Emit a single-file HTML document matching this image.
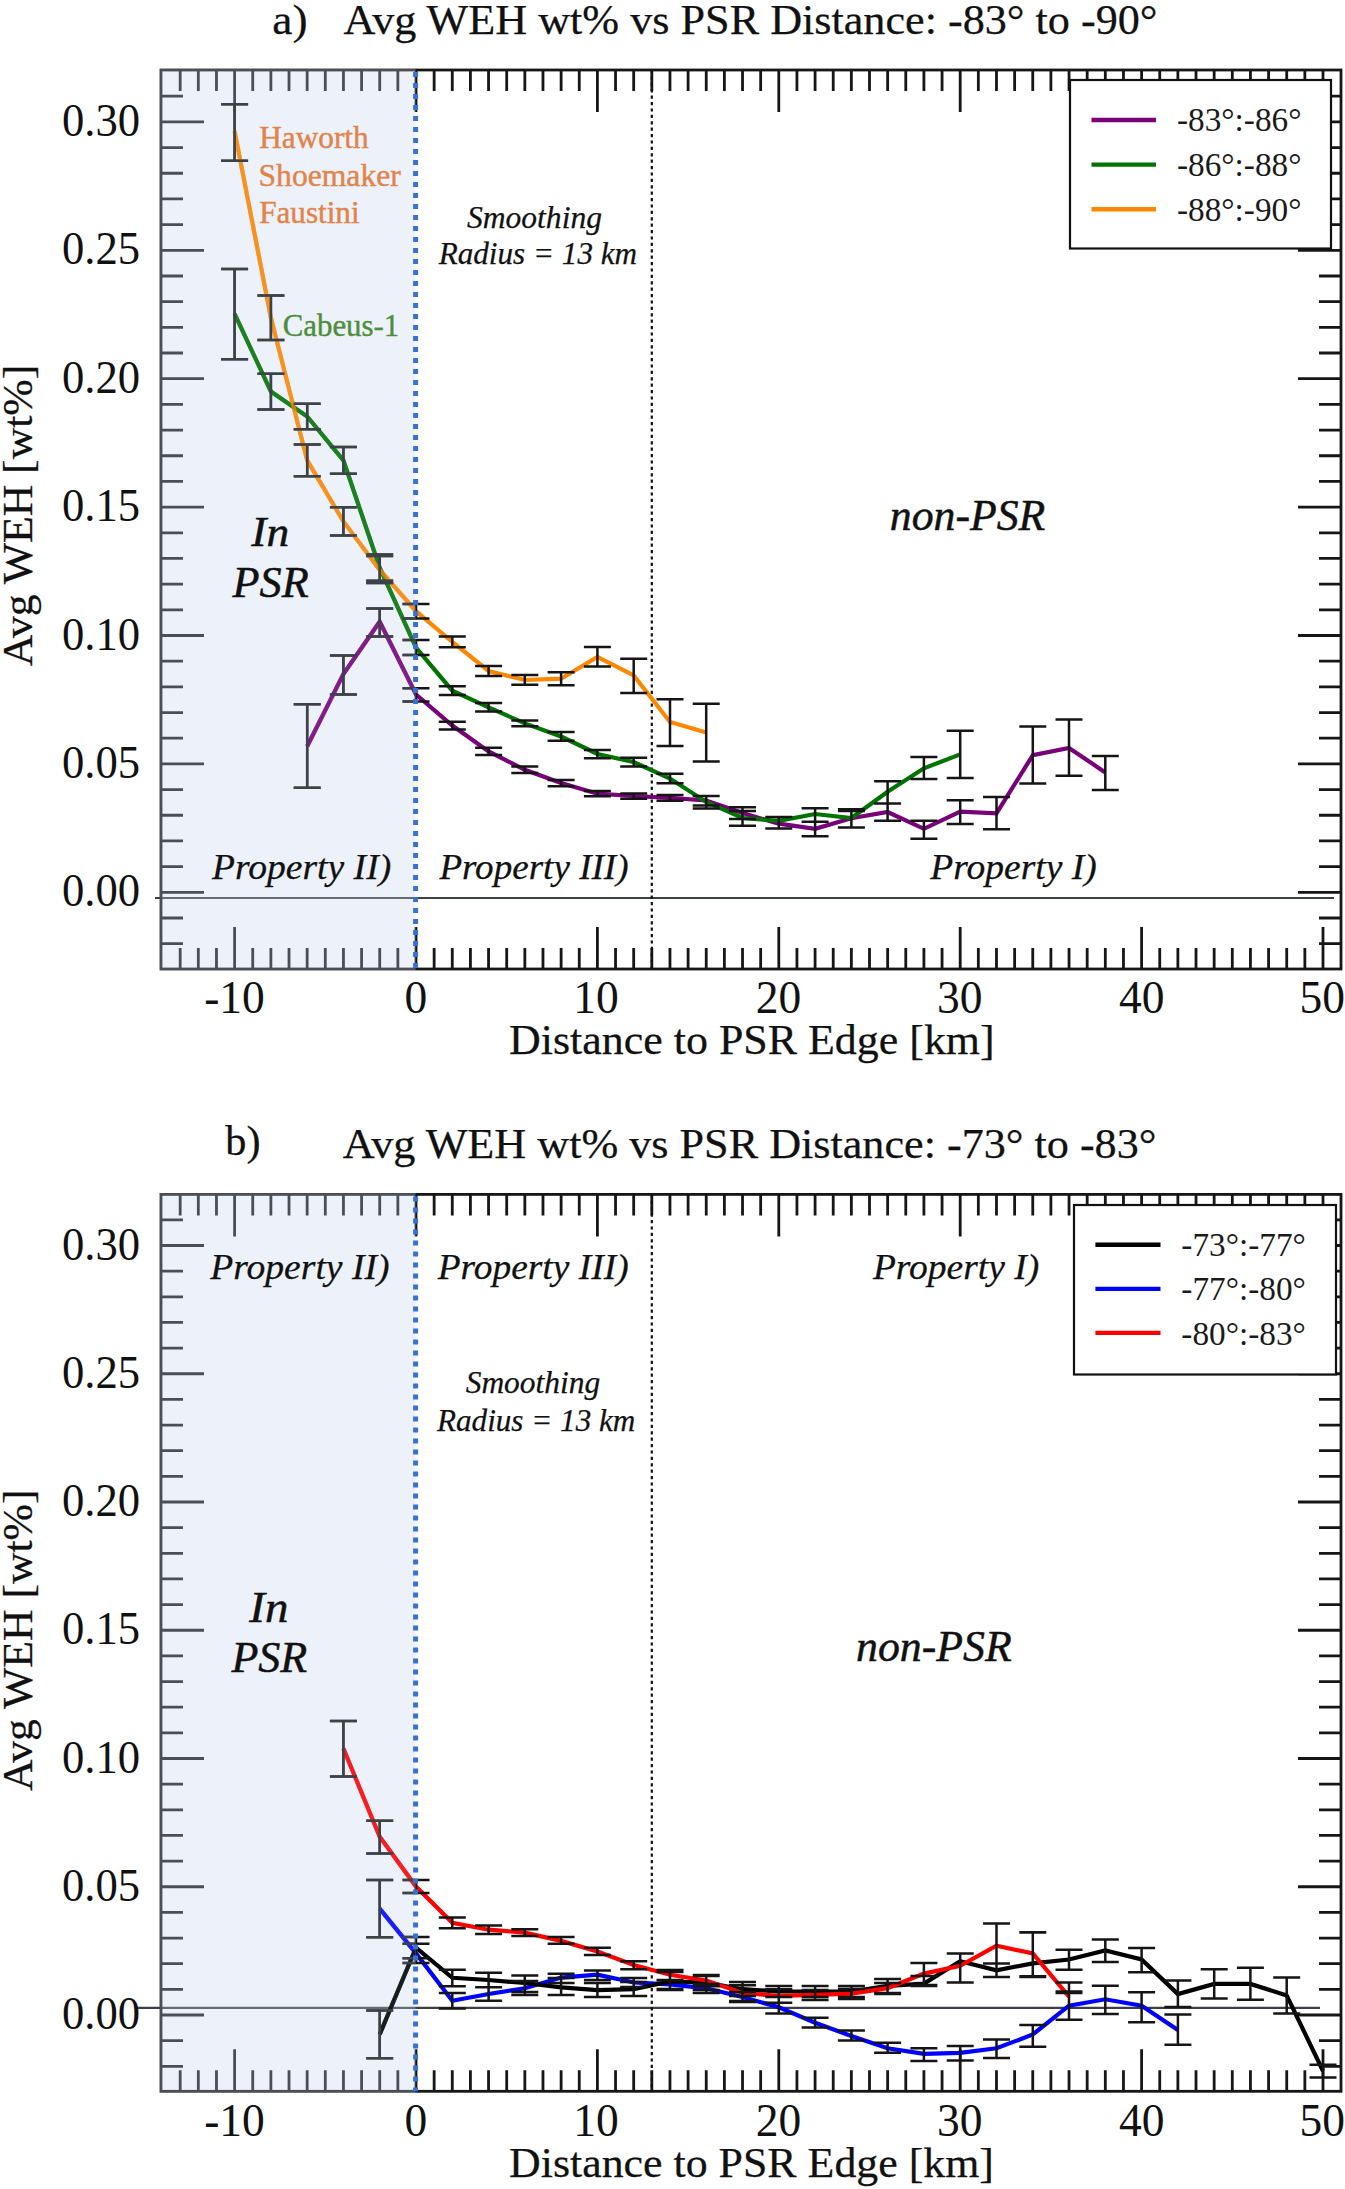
<!DOCTYPE html>
<html><head><meta charset="utf-8"><style>html,body{margin:0;padding:0;background:#fff;}svg{display:block;}</style></head><body>
<svg width="1345" height="2189" viewBox="0 0 1345 2189">
<rect width="1345" height="2189" fill="#fff"/>
<path d="M180.18 969.0v-21M180.18 70.0v21M198.32 969.0v-21M198.32 70.0v21M216.46 969.0v-21M216.46 70.0v21M234.60 969.0v-42M234.60 70.0v42M252.74 969.0v-21M252.74 70.0v21M270.88 969.0v-21M270.88 70.0v21M289.02 969.0v-21M289.02 70.0v21M307.16 969.0v-21M307.16 70.0v21M325.30 969.0v-21M325.30 70.0v21M343.44 969.0v-21M343.44 70.0v21M361.58 969.0v-21M361.58 70.0v21M379.72 969.0v-21M379.72 70.0v21M397.86 969.0v-21M397.86 70.0v21M416.00 969.0v-42M416.00 70.0v42M434.14 969.0v-21M434.14 70.0v21M452.28 969.0v-21M452.28 70.0v21M470.42 969.0v-21M470.42 70.0v21M488.56 969.0v-21M488.56 70.0v21M506.70 969.0v-21M506.70 70.0v21M524.84 969.0v-21M524.84 70.0v21M542.98 969.0v-21M542.98 70.0v21M561.12 969.0v-21M561.12 70.0v21M579.26 969.0v-21M579.26 70.0v21M597.40 969.0v-42M597.40 70.0v42M615.54 969.0v-21M615.54 70.0v21M633.68 969.0v-21M633.68 70.0v21M651.82 969.0v-21M651.82 70.0v21M669.96 969.0v-21M669.96 70.0v21M688.10 969.0v-21M688.10 70.0v21M706.24 969.0v-21M706.24 70.0v21M724.38 969.0v-21M724.38 70.0v21M742.52 969.0v-21M742.52 70.0v21M760.66 969.0v-21M760.66 70.0v21M778.80 969.0v-42M778.80 70.0v42M796.94 969.0v-21M796.94 70.0v21M815.08 969.0v-21M815.08 70.0v21M833.22 969.0v-21M833.22 70.0v21M851.36 969.0v-21M851.36 70.0v21M869.50 969.0v-21M869.50 70.0v21M887.64 969.0v-21M887.64 70.0v21M905.78 969.0v-21M905.78 70.0v21M923.92 969.0v-21M923.92 70.0v21M942.06 969.0v-21M942.06 70.0v21M960.20 969.0v-42M960.20 70.0v42M978.34 969.0v-21M978.34 70.0v21M996.48 969.0v-21M996.48 70.0v21M1014.62 969.0v-21M1014.62 70.0v21M1032.76 969.0v-21M1032.76 70.0v21M1050.90 969.0v-21M1050.90 70.0v21M1069.04 969.0v-21M1069.04 70.0v21M1087.18 969.0v-21M1087.18 70.0v21M1105.32 969.0v-21M1105.32 70.0v21M1123.46 969.0v-21M1123.46 70.0v21M1141.60 969.0v-42M1141.60 70.0v42M1159.74 969.0v-21M1159.74 70.0v21M1177.88 969.0v-21M1177.88 70.0v21M1196.02 969.0v-21M1196.02 70.0v21M1214.16 969.0v-21M1214.16 70.0v21M1232.30 969.0v-21M1232.30 70.0v21M1250.44 969.0v-21M1250.44 70.0v21M1268.58 969.0v-21M1268.58 70.0v21M1286.72 969.0v-21M1286.72 70.0v21M1304.86 969.0v-21M1304.86 70.0v21M1323.00 969.0v-42M1323.00 70.0v42M161.0 943.66h22M1341.0 943.66h-22M161.0 917.98h22M1341.0 917.98h-22M161.0 892.30h43M1341.0 892.30h-43M161.0 866.62h22M1341.0 866.62h-22M161.0 840.94h22M1341.0 840.94h-22M161.0 815.26h22M1341.0 815.26h-22M161.0 789.58h22M1341.0 789.58h-22M161.0 763.90h43M1341.0 763.90h-43M161.0 738.22h22M1341.0 738.22h-22M161.0 712.54h22M1341.0 712.54h-22M161.0 686.86h22M1341.0 686.86h-22M161.0 661.18h22M1341.0 661.18h-22M161.0 635.50h43M1341.0 635.50h-43M161.0 609.82h22M1341.0 609.82h-22M161.0 584.14h22M1341.0 584.14h-22M161.0 558.46h22M1341.0 558.46h-22M161.0 532.78h22M1341.0 532.78h-22M161.0 507.10h43M1341.0 507.10h-43M161.0 481.42h22M1341.0 481.42h-22M161.0 455.74h22M1341.0 455.74h-22M161.0 430.06h22M1341.0 430.06h-22M161.0 404.38h22M1341.0 404.38h-22M161.0 378.70h43M1341.0 378.70h-43M161.0 353.02h22M1341.0 353.02h-22M161.0 327.34h22M1341.0 327.34h-22M161.0 301.66h22M1341.0 301.66h-22M161.0 275.98h22M1341.0 275.98h-22M161.0 250.30h43M1341.0 250.30h-43M161.0 224.62h22M1341.0 224.62h-22M161.0 198.94h22M1341.0 198.94h-22M161.0 173.26h22M1341.0 173.26h-22M161.0 147.58h22M1341.0 147.58h-22M161.0 121.90h43M1341.0 121.90h-43M161.0 96.22h22M1341.0 96.22h-22" stroke="#161616" stroke-width="2.8" fill="none"/>
<path d="M155 898.0H1334" stroke="#3c3f44" stroke-width="2.2"/>
<rect x="161.0" y="70.0" width="1180.0" height="899.0" fill="none" stroke="#161616" stroke-width="2.8"/>
<path d="M651.8 70.0V969.0" stroke="#111" stroke-width="2.2" stroke-dasharray="3.2 3.2"/>
<path d="M307.2 746.2 L343.4 674.0 L379.7 621.7 L416.0 694.5 L452.3 725.5 L488.6 751.4 L524.8 769.8 L561.1 783.0 L597.4 793.7 L633.7 796.0 L670.0 797.9 L706.2 800.5 L742.5 813.0 L778.8 823.7 L815.1 828.8 L851.4 818.3 L887.6 812.0 L923.9 828.8 L960.2 811.7 L996.5 813.3 L1032.8 755.2 L1069.0 747.9 L1105.3 772.4" stroke="#780078" stroke-width="4.2" fill="none" stroke-opacity="1.0" stroke-linejoin="miter" stroke-miterlimit="3" stroke-linecap="butt"/>
<path d="M234.6 313.9 L270.9 391.5 L307.2 416.5 L343.4 460.3 L379.7 567.7 L416.0 647.5 L452.3 690.7 L488.6 707.3 L524.8 723.4 L561.1 736.5 L597.4 754.0 L633.7 762.0 L670.0 778.5 L706.2 802.0 L742.5 818.0 L778.8 820.8 L815.1 814.0 L851.4 818.0 L887.6 791.8 L923.9 768.3 L960.2 754.4" stroke="#007300" stroke-width="4.2" fill="none" stroke-opacity="1.0" stroke-linejoin="miter" stroke-miterlimit="3" stroke-linecap="butt"/>
<path d="M234.6 131.2 L270.9 317.8 L307.2 460.4 L343.4 521.4 L379.7 570.0 L416.0 611.2 L452.3 642.0 L488.6 671.0 L524.8 680.0 L561.1 678.7 L597.4 657.0 L633.7 675.5 L670.0 722.0 L706.2 732.5" stroke="#ff8700" stroke-width="4.2" fill="none" stroke-opacity="1.0" stroke-linejoin="miter" stroke-miterlimit="3" stroke-linecap="butt"/>
<path d="M234.6 104.2V160.8M221.1 104.2h27M221.1 160.8h27M270.9 295.5V340.0M257.4 295.5h27M257.4 340.0h27M307.2 444.4V476.3M293.7 444.4h27M293.7 476.3h27M343.4 507.2V535.6M329.9 507.2h27M329.9 535.6h27M379.7 556.0V583.0M366.2 556.0h27M366.2 583.0h27M416.0 604.0V618.5M402.5 604.0h27M402.5 618.5h27M452.3 636.6V647.3M438.8 636.6h27M438.8 647.3h27M488.6 666.0V676.0M475.1 666.0h27M475.1 676.0h27M524.8 675.1V684.8M511.3 675.1h27M511.3 684.8h27M561.1 672.2V685.3M547.6 672.2h27M547.6 685.3h27M597.4 647.0V666.4M583.9 647.0h27M583.9 666.4h27M633.7 658.7V693.1M620.2 658.7h27M620.2 693.1h27M670.0 699.3V746.0M656.5 699.3h27M656.5 746.0h27M706.2 703.8V761.6M692.7 703.8h27M692.7 761.6h27M234.6 269.1V359.3M221.1 269.1h27M221.1 359.3h27M270.9 373.8V409.6M257.4 373.8h27M257.4 409.6h27M307.2 403.8V429.3M293.7 403.8h27M293.7 429.3h27M343.4 446.9V473.8M329.9 446.9h27M329.9 473.8h27M379.7 554.6V580.7M366.2 554.6h27M366.2 580.7h27M416.0 640.0V655.0M402.5 640.0h27M402.5 655.0h27M452.3 686.3V695.0M438.8 686.3h27M438.8 695.0h27M488.6 703.1V711.5M475.1 703.1h27M475.1 711.5h27M524.8 720.5V726.3M511.3 720.5h27M511.3 726.3h27M561.1 732.1V740.8M547.6 732.1h27M547.6 740.8h27M597.4 749.9V758.2M583.9 749.9h27M583.9 758.2h27M633.7 757.8V766.5M620.2 757.8h27M620.2 766.5h27M670.0 773.7V783.3M656.5 773.7h27M656.5 783.3h27M706.2 796.0V808.5M692.7 796.0h27M692.7 808.5h27M742.5 811.0V825.7M729.0 811.0h27M729.0 825.7h27M778.8 817.0V828.5M765.3 817.0h27M765.3 828.5h27M815.1 808.3V821.8M801.6 808.3h27M801.6 821.8h27M851.4 809.2V827.6M837.9 809.2h27M837.9 827.6h27M887.6 781.2V803.4M874.1 781.2h27M874.1 803.4h27M923.9 756.9V779.0M910.4 756.9h27M910.4 779.0h27M960.2 730.7V778.1M946.7 730.7h27M946.7 778.1h27M307.2 704.3V787.8M293.7 704.3h27M293.7 787.8h27M343.4 655.4V694.4M329.9 655.4h27M329.9 694.4h27M379.7 608.4V636.4M366.2 608.4h27M366.2 636.4h27M416.0 688.3V701.4M402.5 688.3h27M402.5 701.4h27M452.3 721.7V729.4M438.8 721.7h27M438.8 729.4h27M488.6 747.8V755.0M475.1 747.8h27M475.1 755.0h27M524.8 766.4V773.0M511.3 766.4h27M511.3 773.0h27M561.1 779.9V786.3M547.6 779.9h27M547.6 786.3h27M597.4 791.1V796.3M583.9 791.1h27M583.9 796.3h27M633.7 793.4V798.8M620.2 793.4h27M620.2 798.8h27M670.0 795.0V800.7M656.5 795.0h27M656.5 800.7h27M706.2 796.0V805.5M692.7 796.0h27M692.7 805.5h27M742.5 807.3V819.0M729.0 807.3h27M729.0 819.0h27M778.8 817.0V828.5M765.3 817.0h27M765.3 828.5h27M815.1 821.8V836.3M801.6 821.8h27M801.6 836.3h27M851.4 811.0V827.6M837.9 811.0h27M837.9 827.6h27M887.6 803.4V820.8M874.1 803.4h27M874.1 820.8h27M923.9 820.7V838.7M910.4 820.7h27M910.4 838.7h27M960.2 800.2V824.0M946.7 800.2h27M946.7 824.0h27M996.5 797.0V829.2M983.0 797.0h27M983.0 829.2h27M1032.8 726.6V783.4M1019.3 726.6h27M1019.3 783.4h27M1069.0 719.6V775.7M1055.5 719.6h27M1055.5 775.7h27M1105.3 756.0V789.9M1091.8 756.0h27M1091.8 789.9h27" stroke="#151515" stroke-width="2.5" fill="none"/>
<rect x="1070" y="80" width="261" height="168.5" fill="#fff" stroke="#111" stroke-width="2.2"/>
<path d="M1091.5 120.0H1156" stroke="#780078" stroke-width="4.4"/>
<path d="M1091.5 164.6H1156" stroke="#007300" stroke-width="4.4"/>
<path d="M1091.5 209.2H1156" stroke="#ff8700" stroke-width="4.4"/>
<rect x="159.6" y="68.6" width="256.0" height="901.8" fill="rgb(195,211,238)" fill-opacity="0.3"/>
<clipPath id="clip70"><rect x="161.0" y="71.4" width="254.6" height="896.2"/></clipPath>
<g clip-path="url(#clip70)">
<path d="M307.2 746.2 L343.4 674.0 L379.7 621.7 L416.0 694.5 L452.3 725.5 L488.6 751.4 L524.8 769.8 L561.1 783.0 L597.4 793.7 L633.7 796.0 L670.0 797.9 L706.2 800.5 L742.5 813.0 L778.8 823.7 L815.1 828.8 L851.4 818.3 L887.6 812.0 L923.9 828.8 L960.2 811.7 L996.5 813.3 L1032.8 755.2 L1069.0 747.9 L1105.3 772.4" stroke="#780078" stroke-width="4.2" fill="none" stroke-opacity="0.55" stroke-linejoin="miter" stroke-miterlimit="3" stroke-linecap="butt"/>
<path d="M234.6 313.9 L270.9 391.5 L307.2 416.5 L343.4 460.3 L379.7 567.7 L416.0 647.5 L452.3 690.7 L488.6 707.3 L524.8 723.4 L561.1 736.5 L597.4 754.0 L633.7 762.0 L670.0 778.5 L706.2 802.0 L742.5 818.0 L778.8 820.8 L815.1 814.0 L851.4 818.0 L887.6 791.8 L923.9 768.3 L960.2 754.4" stroke="#007300" stroke-width="4.2" fill="none" stroke-opacity="0.55" stroke-linejoin="miter" stroke-miterlimit="3" stroke-linecap="butt"/>
<path d="M234.6 131.2 L270.9 317.8 L307.2 460.4 L343.4 521.4 L379.7 570.0 L416.0 611.2 L452.3 642.0 L488.6 671.0 L524.8 680.0 L561.1 678.7 L597.4 657.0 L633.7 675.5 L670.0 722.0 L706.2 732.5" stroke="#ff8700" stroke-width="4.2" fill="none" stroke-opacity="0.55" stroke-linejoin="miter" stroke-miterlimit="3" stroke-linecap="butt"/>
<path d="M307.2 704.3V787.8M293.7 704.3h27M293.7 787.8h27M343.4 655.4V694.4M329.9 655.4h27M329.9 694.4h27M379.7 608.4V636.4M366.2 608.4h27M366.2 636.4h27M416.0 688.3V701.4M402.5 688.3h27M402.5 701.4h27M452.3 721.7V729.4M438.8 721.7h27M438.8 729.4h27M488.6 747.8V755.0M475.1 747.8h27M475.1 755.0h27M524.8 766.4V773.0M511.3 766.4h27M511.3 773.0h27M561.1 779.9V786.3M547.6 779.9h27M547.6 786.3h27M597.4 791.1V796.3M583.9 791.1h27M583.9 796.3h27M633.7 793.4V798.8M620.2 793.4h27M620.2 798.8h27M670.0 795.0V800.7M656.5 795.0h27M656.5 800.7h27M706.2 796.0V805.5M692.7 796.0h27M692.7 805.5h27M742.5 807.3V819.0M729.0 807.3h27M729.0 819.0h27M778.8 817.0V828.5M765.3 817.0h27M765.3 828.5h27M815.1 821.8V836.3M801.6 821.8h27M801.6 836.3h27M851.4 811.0V827.6M837.9 811.0h27M837.9 827.6h27M887.6 803.4V820.8M874.1 803.4h27M874.1 820.8h27M923.9 820.7V838.7M910.4 820.7h27M910.4 838.7h27M960.2 800.2V824.0M946.7 800.2h27M946.7 824.0h27M996.5 797.0V829.2M983.0 797.0h27M983.0 829.2h27M1032.8 726.6V783.4M1019.3 726.6h27M1019.3 783.4h27M1069.0 719.6V775.7M1055.5 719.6h27M1055.5 775.7h27M1105.3 756.0V789.9M1091.8 756.0h27M1091.8 789.9h27M234.6 269.1V359.3M221.1 269.1h27M221.1 359.3h27M270.9 373.8V409.6M257.4 373.8h27M257.4 409.6h27M307.2 403.8V429.3M293.7 403.8h27M293.7 429.3h27M343.4 446.9V473.8M329.9 446.9h27M329.9 473.8h27M379.7 554.6V580.7M366.2 554.6h27M366.2 580.7h27M416.0 640.0V655.0M402.5 640.0h27M402.5 655.0h27M452.3 686.3V695.0M438.8 686.3h27M438.8 695.0h27M488.6 703.1V711.5M475.1 703.1h27M475.1 711.5h27M524.8 720.5V726.3M511.3 720.5h27M511.3 726.3h27M561.1 732.1V740.8M547.6 732.1h27M547.6 740.8h27M597.4 749.9V758.2M583.9 749.9h27M583.9 758.2h27M633.7 757.8V766.5M620.2 757.8h27M620.2 766.5h27M670.0 773.7V783.3M656.5 773.7h27M656.5 783.3h27M706.2 796.0V808.5M692.7 796.0h27M692.7 808.5h27M742.5 811.0V825.7M729.0 811.0h27M729.0 825.7h27M778.8 817.0V828.5M765.3 817.0h27M765.3 828.5h27M815.1 808.3V821.8M801.6 808.3h27M801.6 821.8h27M851.4 809.2V827.6M837.9 809.2h27M837.9 827.6h27M887.6 781.2V803.4M874.1 781.2h27M874.1 803.4h27M923.9 756.9V779.0M910.4 756.9h27M910.4 779.0h27M960.2 730.7V778.1M946.7 730.7h27M946.7 778.1h27M234.6 104.2V160.8M221.1 104.2h27M221.1 160.8h27M270.9 295.5V340.0M257.4 295.5h27M257.4 340.0h27M307.2 444.4V476.3M293.7 444.4h27M293.7 476.3h27M343.4 507.2V535.6M329.9 507.2h27M329.9 535.6h27M379.7 556.0V583.0M366.2 556.0h27M366.2 583.0h27M416.0 604.0V618.5M402.5 604.0h27M402.5 618.5h27M452.3 636.6V647.3M438.8 636.6h27M438.8 647.3h27M488.6 666.0V676.0M475.1 666.0h27M475.1 676.0h27M524.8 675.1V684.8M511.3 675.1h27M511.3 684.8h27M561.1 672.2V685.3M547.6 672.2h27M547.6 685.3h27M597.4 647.0V666.4M583.9 647.0h27M583.9 666.4h27M633.7 658.7V693.1M620.2 658.7h27M620.2 693.1h27M670.0 699.3V746.0M656.5 699.3h27M656.5 746.0h27M706.2 703.8V761.6M692.7 703.8h27M692.7 761.6h27" stroke="#3d4249" stroke-width="2.5" fill="none"/>
</g>
<path d="M415.6 72.0V969.0" stroke="#3b70d0" stroke-width="5" stroke-dasharray="5 6"/>
<path d="M180.18 2091.3v-21M180.18 1194.4v21M198.32 2091.3v-21M198.32 1194.4v21M216.46 2091.3v-21M216.46 1194.4v21M234.60 2091.3v-42M234.60 1194.4v42M252.74 2091.3v-21M252.74 1194.4v21M270.88 2091.3v-21M270.88 1194.4v21M289.02 2091.3v-21M289.02 1194.4v21M307.16 2091.3v-21M307.16 1194.4v21M325.30 2091.3v-21M325.30 1194.4v21M343.44 2091.3v-21M343.44 1194.4v21M361.58 2091.3v-21M361.58 1194.4v21M379.72 2091.3v-21M379.72 1194.4v21M397.86 2091.3v-21M397.86 1194.4v21M416.00 2091.3v-42M416.00 1194.4v42M434.14 2091.3v-21M434.14 1194.4v21M452.28 2091.3v-21M452.28 1194.4v21M470.42 2091.3v-21M470.42 1194.4v21M488.56 2091.3v-21M488.56 1194.4v21M506.70 2091.3v-21M506.70 1194.4v21M524.84 2091.3v-21M524.84 1194.4v21M542.98 2091.3v-21M542.98 1194.4v21M561.12 2091.3v-21M561.12 1194.4v21M579.26 2091.3v-21M579.26 1194.4v21M597.40 2091.3v-42M597.40 1194.4v42M615.54 2091.3v-21M615.54 1194.4v21M633.68 2091.3v-21M633.68 1194.4v21M651.82 2091.3v-21M651.82 1194.4v21M669.96 2091.3v-21M669.96 1194.4v21M688.10 2091.3v-21M688.10 1194.4v21M706.24 2091.3v-21M706.24 1194.4v21M724.38 2091.3v-21M724.38 1194.4v21M742.52 2091.3v-21M742.52 1194.4v21M760.66 2091.3v-21M760.66 1194.4v21M778.80 2091.3v-42M778.80 1194.4v42M796.94 2091.3v-21M796.94 1194.4v21M815.08 2091.3v-21M815.08 1194.4v21M833.22 2091.3v-21M833.22 1194.4v21M851.36 2091.3v-21M851.36 1194.4v21M869.50 2091.3v-21M869.50 1194.4v21M887.64 2091.3v-21M887.64 1194.4v21M905.78 2091.3v-21M905.78 1194.4v21M923.92 2091.3v-21M923.92 1194.4v21M942.06 2091.3v-21M942.06 1194.4v21M960.20 2091.3v-42M960.20 1194.4v42M978.34 2091.3v-21M978.34 1194.4v21M996.48 2091.3v-21M996.48 1194.4v21M1014.62 2091.3v-21M1014.62 1194.4v21M1032.76 2091.3v-21M1032.76 1194.4v21M1050.90 2091.3v-21M1050.90 1194.4v21M1069.04 2091.3v-21M1069.04 1194.4v21M1087.18 2091.3v-21M1087.18 1194.4v21M1105.32 2091.3v-21M1105.32 1194.4v21M1123.46 2091.3v-21M1123.46 1194.4v21M1141.60 2091.3v-42M1141.60 1194.4v42M1159.74 2091.3v-21M1159.74 1194.4v21M1177.88 2091.3v-21M1177.88 1194.4v21M1196.02 2091.3v-21M1196.02 1194.4v21M1214.16 2091.3v-21M1214.16 1194.4v21M1232.30 2091.3v-21M1232.30 1194.4v21M1250.44 2091.3v-21M1250.44 1194.4v21M1268.58 2091.3v-21M1268.58 1194.4v21M1286.72 2091.3v-21M1286.72 1194.4v21M1304.86 2091.3v-21M1304.86 1194.4v21M1323.00 2091.3v-42M1323.00 1194.4v42M161.0 2066.30h22M1341.0 2066.30h-22M161.0 2040.65h22M1341.0 2040.65h-22M161.0 2015.00h43M1341.0 2015.00h-43M161.0 1989.35h22M1341.0 1989.35h-22M161.0 1963.70h22M1341.0 1963.70h-22M161.0 1938.05h22M1341.0 1938.05h-22M161.0 1912.40h22M1341.0 1912.40h-22M161.0 1886.75h43M1341.0 1886.75h-43M161.0 1861.10h22M1341.0 1861.10h-22M161.0 1835.45h22M1341.0 1835.45h-22M161.0 1809.80h22M1341.0 1809.80h-22M161.0 1784.15h22M1341.0 1784.15h-22M161.0 1758.50h43M1341.0 1758.50h-43M161.0 1732.85h22M1341.0 1732.85h-22M161.0 1707.20h22M1341.0 1707.20h-22M161.0 1681.55h22M1341.0 1681.55h-22M161.0 1655.90h22M1341.0 1655.90h-22M161.0 1630.25h43M1341.0 1630.25h-43M161.0 1604.60h22M1341.0 1604.60h-22M161.0 1578.95h22M1341.0 1578.95h-22M161.0 1553.30h22M1341.0 1553.30h-22M161.0 1527.65h22M1341.0 1527.65h-22M161.0 1502.00h43M1341.0 1502.00h-43M161.0 1476.35h22M1341.0 1476.35h-22M161.0 1450.70h22M1341.0 1450.70h-22M161.0 1425.05h22M1341.0 1425.05h-22M161.0 1399.40h22M1341.0 1399.40h-22M161.0 1373.75h43M1341.0 1373.75h-43M161.0 1348.10h22M1341.0 1348.10h-22M161.0 1322.45h22M1341.0 1322.45h-22M161.0 1296.80h22M1341.0 1296.80h-22M161.0 1271.15h22M1341.0 1271.15h-22M161.0 1245.50h43M1341.0 1245.50h-43M161.0 1219.85h22M1341.0 1219.85h-22" stroke="#161616" stroke-width="2.8" fill="none"/>
<path d="M135 2007.8H1320" stroke="#3c3f44" stroke-width="2.2"/>
<rect x="161.0" y="1194.4" width="1180.0" height="896.9000000000001" fill="none" stroke="#161616" stroke-width="2.8"/>
<path d="M651.8 1194.4V2091.3" stroke="#111" stroke-width="2.2" stroke-dasharray="3.2 3.2"/>
<path d="M379.7 1908.6 L416.0 1953.4 L452.3 2000.7 L488.6 1994.0 L524.8 1988.2 L561.1 1977.6 L597.4 1974.7 L633.7 1982.5 L670.0 1984.4 L706.2 1988.3 L742.5 1997.0 L778.8 2007.3 L815.1 2022.7 L851.4 2036.0 L887.6 2048.3 L923.9 2053.9 L960.2 2052.8 L996.5 2048.3 L1032.8 2034.5 L1069.0 2005.7 L1105.3 1999.3 L1141.6 2005.7 L1177.9 2030.0" stroke="#0000ff" stroke-width="4.2" fill="none" stroke-opacity="1.0" stroke-linejoin="miter" stroke-miterlimit="3" stroke-linecap="butt"/>
<path d="M379.7 2034.4 L416.0 1947.6 L452.3 1977.8 L488.6 1980.0 L524.8 1983.0 L561.1 1987.3 L597.4 1990.2 L633.7 1989.2 L670.0 1981.5 L706.2 1982.5 L742.5 1989.2 L778.8 1991.5 L815.1 1991.5 L851.4 1991.5 L887.6 1985.9 L923.9 1983.6 L960.2 1961.3 L996.5 1970.3 L1032.8 1963.4 L1069.0 1959.5 L1105.3 1950.5 L1141.6 1959.5 L1177.9 1994.1 L1214.2 1983.9 L1250.4 1983.9 L1286.7 1995.4 L1323.0 2071.0" stroke="#000000" stroke-width="4.2" fill="none" stroke-opacity="1.0" stroke-linejoin="miter" stroke-miterlimit="3" stroke-linecap="butt"/>
<path d="M343.4 1748.5 L379.7 1836.8 L416.0 1886.6 L452.3 1922.8 L488.6 1929.7 L524.8 1932.6 L561.1 1940.9 L597.4 1951.5 L633.7 1965.0 L670.0 1974.7 L706.2 1980.5 L742.5 1993.0 L778.8 1995.9 L815.1 1994.8 L851.4 1993.7 L887.6 1988.1 L923.9 1973.6 L960.2 1965.8 L996.5 1945.7 L1032.8 1953.5 L1069.0 1996.7" stroke="#ff0000" stroke-width="4.2" fill="none" stroke-opacity="1.0" stroke-linejoin="miter" stroke-miterlimit="3" stroke-linecap="butt"/>
<path d="M343.4 1721.1V1776.6M329.9 1721.1h27M329.9 1776.6h27M379.7 1820.7V1853.6M366.2 1820.7h27M366.2 1853.6h27M416.0 1880.0V1893.0M402.5 1880.0h27M402.5 1893.0h27M452.3 1917.6V1928.3M438.8 1917.6h27M438.8 1928.3h27M488.6 1925.4V1934.0M475.1 1925.4h27M475.1 1934.0h27M524.8 1929.2V1936.0M511.3 1929.2h27M511.3 1936.0h27M561.1 1937.0V1943.8M547.6 1937.0h27M547.6 1943.8h27M597.4 1947.7V1955.0M583.9 1947.7h27M583.9 1955.0h27M633.7 1961.2V1969.3M620.2 1961.2h27M620.2 1969.3h27M670.0 1970.0V1980.5M656.5 1970.0h27M656.5 1980.5h27M706.2 1976.0V1986.3M692.7 1976.0h27M692.7 1986.3h27M742.5 1985.3V2001.0M729.0 1985.3h27M729.0 2001.0h27M778.8 1989.2V2002.7M765.3 1989.2h27M765.3 2002.7h27M815.1 1990.0V2000.0M801.6 1990.0h27M801.6 2000.0h27M851.4 1989.0V1999.0M837.9 1989.0h27M837.9 1999.0h27M887.6 1983.0V1994.0M874.1 1983.0h27M874.1 1994.0h27M923.9 1963.0V1985.0M910.4 1963.0h27M910.4 1985.0h27M960.2 1953.5V1982.5M946.7 1953.5h27M946.7 1982.5h27M996.5 1923.4V1977.0M983.0 1923.4h27M983.0 1977.0h27M1032.8 1932.3V1977.0M1019.3 1932.3h27M1019.3 1977.0h27M1069.0 1982.6V1992.9M1055.5 1982.6h27M1055.5 1992.9h27M379.7 2010.4V2058.2M366.2 2010.4h27M366.2 2058.2h27M416.0 1937.0V1958.2M402.5 1937.0h27M402.5 1958.2h27M452.3 1969.8V1986.2M438.8 1969.8h27M438.8 1986.2h27M488.6 1972.7V1987.2M475.1 1972.7h27M475.1 1987.2h27M524.8 1975.6V1992.0M511.3 1975.6h27M511.3 1992.0h27M561.1 1978.0V1995.0M547.6 1978.0h27M547.6 1995.0h27M597.4 1983.0V1997.0M583.9 1983.0h27M583.9 1997.0h27M633.7 1982.0V1996.0M620.2 1982.0h27M620.2 1996.0h27M670.0 1972.0V1990.0M656.5 1972.0h27M656.5 1990.0h27M706.2 1975.0V1990.0M692.7 1975.0h27M692.7 1990.0h27M742.5 1982.0V1996.0M729.0 1982.0h27M729.0 1996.0h27M778.8 1986.0V1997.0M765.3 1986.0h27M765.3 1997.0h27M815.1 1986.0V1997.0M801.6 1986.0h27M801.6 1997.0h27M851.4 1986.0V1997.0M837.9 1986.0h27M837.9 1997.0h27M887.6 1979.0V1993.0M874.1 1979.0h27M874.1 1993.0h27M923.9 1976.0V1986.0M910.4 1976.0h27M910.4 1986.0h27M960.2 1953.5V1982.5M946.7 1953.5h27M946.7 1982.5h27M996.5 1963.6V1977.0M983.0 1963.6h27M983.0 1977.0h27M1032.8 1932.6V1976.2M1019.3 1932.6h27M1019.3 1976.2h27M1069.0 1949.8V1969.8M1055.5 1949.8h27M1055.5 1969.8h27M1105.3 1939.5V1962.1M1091.8 1939.5h27M1091.8 1962.1h27M1141.6 1948.0V1972.3M1128.1 1948.0h27M1128.1 1972.3h27M1177.9 1980.5V2007.0M1164.4 1980.5h27M1164.4 2007.0h27M1214.2 1969.3V1998.5M1200.7 1969.3h27M1200.7 1998.5h27M1250.4 1967.7V1999.8M1236.9 1967.7h27M1236.9 1999.8h27M1286.7 1977.5V2013.4M1273.2 1977.5h27M1273.2 2013.4h27M1323.0 2064.7V2077.5M1309.5 2064.7h27M1309.5 2077.5h27M379.7 1880.0V1937.3M366.2 1880.0h27M366.2 1937.3h27M416.0 1943.7V1963.0M402.5 1943.7h27M402.5 1963.0h27M452.3 1993.0V2008.5M438.8 1993.0h27M438.8 2008.5h27M488.6 1987.2V2000.7M475.1 1987.2h27M475.1 2000.7h27M524.8 1981.0V1995.0M511.3 1981.0h27M511.3 1995.0h27M561.1 1973.8V1983.0M547.6 1973.8h27M547.6 1983.0h27M597.4 1970.5V1980.0M583.9 1970.5h27M583.9 1980.0h27M633.7 1978.0V1987.0M620.2 1978.0h27M620.2 1987.0h27M670.0 1980.0V1989.0M656.5 1980.0h27M656.5 1989.0h27M706.2 1984.0V1993.0M692.7 1984.0h27M692.7 1993.0h27M742.5 1992.0V2002.0M729.0 1992.0h27M729.0 2002.0h27M778.8 2002.8V2013.5M765.3 2002.8h27M765.3 2013.5h27M815.1 2017.8V2027.6M801.6 2017.8h27M801.6 2027.6h27M851.4 2030.5V2040.5M837.9 2030.5h27M837.9 2040.5h27M887.6 2042.8V2052.8M874.1 2042.8h27M874.1 2052.8h27M923.9 2048.3V2061.0M910.4 2048.3h27M910.4 2061.0h27M960.2 2046.1V2060.6M946.7 2046.1h27M946.7 2060.6h27M996.5 2039.4V2057.9M983.0 2039.4h27M983.0 2057.9h27M1032.8 2024.9V2046.7M1019.3 2024.9h27M1019.3 2046.7h27M1069.0 1991.6V2019.8M1055.5 1991.6h27M1055.5 2019.8h27M1105.3 1985.7V2013.9M1091.8 1985.7h27M1091.8 2013.9h27M1141.6 1992.3V2022.3M1128.1 1992.3h27M1128.1 2022.3h27M1177.9 2014.6V2044.7M1164.4 2014.6h27M1164.4 2044.7h27" stroke="#151515" stroke-width="2.5" fill="none"/>
<rect x="1074" y="1205" width="262" height="169.5" fill="#fff" stroke="#111" stroke-width="2.2"/>
<path d="M1095.4 1244.8H1160.5" stroke="#000000" stroke-width="4.4"/>
<path d="M1095.4 1288.9H1160.5" stroke="#0000ff" stroke-width="4.4"/>
<path d="M1095.4 1332.9H1160.5" stroke="#ff0000" stroke-width="4.4"/>
<rect x="159.6" y="1193.0" width="256.0" height="899.7" fill="rgb(195,211,238)" fill-opacity="0.3"/>
<clipPath id="clip1194"><rect x="161.0" y="1195.8" width="254.6" height="894.1"/></clipPath>
<g clip-path="url(#clip1194)">
<path d="M379.7 1908.6 L416.0 1953.4 L452.3 2000.7 L488.6 1994.0 L524.8 1988.2 L561.1 1977.6 L597.4 1974.7 L633.7 1982.5 L670.0 1984.4 L706.2 1988.3 L742.5 1997.0 L778.8 2007.3 L815.1 2022.7 L851.4 2036.0 L887.6 2048.3 L923.9 2053.9 L960.2 2052.8 L996.5 2048.3 L1032.8 2034.5 L1069.0 2005.7 L1105.3 1999.3 L1141.6 2005.7 L1177.9 2030.0" stroke="#0000ff" stroke-width="4.2" fill="none" stroke-opacity="0.55" stroke-linejoin="miter" stroke-miterlimit="3" stroke-linecap="butt"/>
<path d="M379.7 2034.4 L416.0 1947.6 L452.3 1977.8 L488.6 1980.0 L524.8 1983.0 L561.1 1987.3 L597.4 1990.2 L633.7 1989.2 L670.0 1981.5 L706.2 1982.5 L742.5 1989.2 L778.8 1991.5 L815.1 1991.5 L851.4 1991.5 L887.6 1985.9 L923.9 1983.6 L960.2 1961.3 L996.5 1970.3 L1032.8 1963.4 L1069.0 1959.5 L1105.3 1950.5 L1141.6 1959.5 L1177.9 1994.1 L1214.2 1983.9 L1250.4 1983.9 L1286.7 1995.4 L1323.0 2071.0" stroke="#000000" stroke-width="4.2" fill="none" stroke-opacity="0.55" stroke-linejoin="miter" stroke-miterlimit="3" stroke-linecap="butt"/>
<path d="M343.4 1748.5 L379.7 1836.8 L416.0 1886.6 L452.3 1922.8 L488.6 1929.7 L524.8 1932.6 L561.1 1940.9 L597.4 1951.5 L633.7 1965.0 L670.0 1974.7 L706.2 1980.5 L742.5 1993.0 L778.8 1995.9 L815.1 1994.8 L851.4 1993.7 L887.6 1988.1 L923.9 1973.6 L960.2 1965.8 L996.5 1945.7 L1032.8 1953.5 L1069.0 1996.7" stroke="#ff0000" stroke-width="4.2" fill="none" stroke-opacity="0.55" stroke-linejoin="miter" stroke-miterlimit="3" stroke-linecap="butt"/>
<path d="M379.7 1880.0V1937.3M366.2 1880.0h27M366.2 1937.3h27M416.0 1943.7V1963.0M402.5 1943.7h27M402.5 1963.0h27M452.3 1993.0V2008.5M438.8 1993.0h27M438.8 2008.5h27M488.6 1987.2V2000.7M475.1 1987.2h27M475.1 2000.7h27M524.8 1981.0V1995.0M511.3 1981.0h27M511.3 1995.0h27M561.1 1973.8V1983.0M547.6 1973.8h27M547.6 1983.0h27M597.4 1970.5V1980.0M583.9 1970.5h27M583.9 1980.0h27M633.7 1978.0V1987.0M620.2 1978.0h27M620.2 1987.0h27M670.0 1980.0V1989.0M656.5 1980.0h27M656.5 1989.0h27M706.2 1984.0V1993.0M692.7 1984.0h27M692.7 1993.0h27M742.5 1992.0V2002.0M729.0 1992.0h27M729.0 2002.0h27M778.8 2002.8V2013.5M765.3 2002.8h27M765.3 2013.5h27M815.1 2017.8V2027.6M801.6 2017.8h27M801.6 2027.6h27M851.4 2030.5V2040.5M837.9 2030.5h27M837.9 2040.5h27M887.6 2042.8V2052.8M874.1 2042.8h27M874.1 2052.8h27M923.9 2048.3V2061.0M910.4 2048.3h27M910.4 2061.0h27M960.2 2046.1V2060.6M946.7 2046.1h27M946.7 2060.6h27M996.5 2039.4V2057.9M983.0 2039.4h27M983.0 2057.9h27M1032.8 2024.9V2046.7M1019.3 2024.9h27M1019.3 2046.7h27M1069.0 1991.6V2019.8M1055.5 1991.6h27M1055.5 2019.8h27M1105.3 1985.7V2013.9M1091.8 1985.7h27M1091.8 2013.9h27M1141.6 1992.3V2022.3M1128.1 1992.3h27M1128.1 2022.3h27M1177.9 2014.6V2044.7M1164.4 2014.6h27M1164.4 2044.7h27M379.7 2010.4V2058.2M366.2 2010.4h27M366.2 2058.2h27M416.0 1937.0V1958.2M402.5 1937.0h27M402.5 1958.2h27M452.3 1969.8V1986.2M438.8 1969.8h27M438.8 1986.2h27M488.6 1972.7V1987.2M475.1 1972.7h27M475.1 1987.2h27M524.8 1975.6V1992.0M511.3 1975.6h27M511.3 1992.0h27M561.1 1978.0V1995.0M547.6 1978.0h27M547.6 1995.0h27M597.4 1983.0V1997.0M583.9 1983.0h27M583.9 1997.0h27M633.7 1982.0V1996.0M620.2 1982.0h27M620.2 1996.0h27M670.0 1972.0V1990.0M656.5 1972.0h27M656.5 1990.0h27M706.2 1975.0V1990.0M692.7 1975.0h27M692.7 1990.0h27M742.5 1982.0V1996.0M729.0 1982.0h27M729.0 1996.0h27M778.8 1986.0V1997.0M765.3 1986.0h27M765.3 1997.0h27M815.1 1986.0V1997.0M801.6 1986.0h27M801.6 1997.0h27M851.4 1986.0V1997.0M837.9 1986.0h27M837.9 1997.0h27M887.6 1979.0V1993.0M874.1 1979.0h27M874.1 1993.0h27M923.9 1976.0V1986.0M910.4 1976.0h27M910.4 1986.0h27M960.2 1953.5V1982.5M946.7 1953.5h27M946.7 1982.5h27M996.5 1963.6V1977.0M983.0 1963.6h27M983.0 1977.0h27M1032.8 1932.6V1976.2M1019.3 1932.6h27M1019.3 1976.2h27M1069.0 1949.8V1969.8M1055.5 1949.8h27M1055.5 1969.8h27M1105.3 1939.5V1962.1M1091.8 1939.5h27M1091.8 1962.1h27M1141.6 1948.0V1972.3M1128.1 1948.0h27M1128.1 1972.3h27M1177.9 1980.5V2007.0M1164.4 1980.5h27M1164.4 2007.0h27M1214.2 1969.3V1998.5M1200.7 1969.3h27M1200.7 1998.5h27M1250.4 1967.7V1999.8M1236.9 1967.7h27M1236.9 1999.8h27M1286.7 1977.5V2013.4M1273.2 1977.5h27M1273.2 2013.4h27M1323.0 2064.7V2077.5M1309.5 2064.7h27M1309.5 2077.5h27M343.4 1721.1V1776.6M329.9 1721.1h27M329.9 1776.6h27M379.7 1820.7V1853.6M366.2 1820.7h27M366.2 1853.6h27M416.0 1880.0V1893.0M402.5 1880.0h27M402.5 1893.0h27M452.3 1917.6V1928.3M438.8 1917.6h27M438.8 1928.3h27M488.6 1925.4V1934.0M475.1 1925.4h27M475.1 1934.0h27M524.8 1929.2V1936.0M511.3 1929.2h27M511.3 1936.0h27M561.1 1937.0V1943.8M547.6 1937.0h27M547.6 1943.8h27M597.4 1947.7V1955.0M583.9 1947.7h27M583.9 1955.0h27M633.7 1961.2V1969.3M620.2 1961.2h27M620.2 1969.3h27M670.0 1970.0V1980.5M656.5 1970.0h27M656.5 1980.5h27M706.2 1976.0V1986.3M692.7 1976.0h27M692.7 1986.3h27M742.5 1985.3V2001.0M729.0 1985.3h27M729.0 2001.0h27M778.8 1989.2V2002.7M765.3 1989.2h27M765.3 2002.7h27M815.1 1990.0V2000.0M801.6 1990.0h27M801.6 2000.0h27M851.4 1989.0V1999.0M837.9 1989.0h27M837.9 1999.0h27M887.6 1983.0V1994.0M874.1 1983.0h27M874.1 1994.0h27M923.9 1963.0V1985.0M910.4 1963.0h27M910.4 1985.0h27M960.2 1953.5V1982.5M946.7 1953.5h27M946.7 1982.5h27M996.5 1923.4V1977.0M983.0 1923.4h27M983.0 1977.0h27M1032.8 1932.3V1977.0M1019.3 1932.3h27M1019.3 1977.0h27M1069.0 1982.6V1992.9M1055.5 1982.6h27M1055.5 1992.9h27" stroke="#3d4249" stroke-width="2.5" fill="none"/>
</g>
<path d="M415.6 1196.4V2091.3" stroke="#3b70d0" stroke-width="5" stroke-dasharray="5 6"/>
<text x="272.29" y="34.20" font-family='"Liberation Serif", serif' font-size="42" font-style="normal" fill="#111" stroke="#111" stroke-width="0.25" textLength="35.24" lengthAdjust="spacingAndGlyphs">a)</text>
<text x="343.56" y="33.50" font-family='"Liberation Serif", serif' font-size="42" font-style="normal" fill="#111" stroke="#111" stroke-width="0.25" textLength="813.97" lengthAdjust="spacingAndGlyphs">Avg WEH wt% vs PSR Distance: -83° to -90°</text>
<text x="225.30" y="1154.60" font-family='"Liberation Serif", serif' font-size="42" font-style="normal" fill="#111" stroke="#111" stroke-width="0.25" textLength="35.22" lengthAdjust="spacingAndGlyphs">b)</text>
<text x="342.66" y="1158.40" font-family='"Liberation Serif", serif' font-size="42" font-style="normal" fill="#111" stroke="#111" stroke-width="0.25" textLength="813.77" lengthAdjust="spacingAndGlyphs">Avg WEH wt% vs PSR Distance: -73° to -83°</text>
<text x="61.91" y="906.30" font-family='"Liberation Serif", serif' font-size="45.5" font-style="normal" fill="#111" stroke="#111" stroke-width="0.0" textLength="78.17" lengthAdjust="spacingAndGlyphs">0.00</text>
<text x="61.91" y="777.90" font-family='"Liberation Serif", serif' font-size="45.5" font-style="normal" fill="#111" stroke="#111" stroke-width="0.0" textLength="78.17" lengthAdjust="spacingAndGlyphs">0.05</text>
<text x="61.91" y="649.50" font-family='"Liberation Serif", serif' font-size="45.5" font-style="normal" fill="#111" stroke="#111" stroke-width="0.0" textLength="78.17" lengthAdjust="spacingAndGlyphs">0.10</text>
<text x="61.91" y="521.10" font-family='"Liberation Serif", serif' font-size="45.5" font-style="normal" fill="#111" stroke="#111" stroke-width="0.0" textLength="78.17" lengthAdjust="spacingAndGlyphs">0.15</text>
<text x="61.91" y="392.70" font-family='"Liberation Serif", serif' font-size="45.5" font-style="normal" fill="#111" stroke="#111" stroke-width="0.0" textLength="78.17" lengthAdjust="spacingAndGlyphs">0.20</text>
<text x="61.91" y="264.30" font-family='"Liberation Serif", serif' font-size="45.5" font-style="normal" fill="#111" stroke="#111" stroke-width="0.0" textLength="78.17" lengthAdjust="spacingAndGlyphs">0.25</text>
<text x="61.91" y="135.90" font-family='"Liberation Serif", serif' font-size="45.5" font-style="normal" fill="#111" stroke="#111" stroke-width="0.0" textLength="78.17" lengthAdjust="spacingAndGlyphs">0.30</text>
<text x="204.14" y="1013.00" font-family='"Liberation Serif", serif' font-size="45.5" font-style="normal" fill="#111" stroke="#111" stroke-width="0.0">-10</text>
<text x="404.43" y="1013.00" font-family='"Liberation Serif", serif' font-size="45.5" font-style="normal" fill="#111" stroke="#111" stroke-width="0.0">0</text>
<text x="573.31" y="1013.00" font-family='"Liberation Serif", serif' font-size="45.5" font-style="normal" fill="#111" stroke="#111" stroke-width="0.0">10</text>
<text x="755.85" y="1013.00" font-family='"Liberation Serif", serif' font-size="45.5" font-style="normal" fill="#111" stroke="#111" stroke-width="0.0">20</text>
<text x="937.02" y="1013.00" font-family='"Liberation Serif", serif' font-size="45.5" font-style="normal" fill="#111" stroke="#111" stroke-width="0.0">30</text>
<text x="1119.10" y="1013.00" font-family='"Liberation Serif", serif' font-size="45.5" font-style="normal" fill="#111" stroke="#111" stroke-width="0.0">40</text>
<text x="1299.60" y="1013.00" font-family='"Liberation Serif", serif' font-size="45.5" font-style="normal" fill="#111" stroke="#111" stroke-width="0.0">50</text>
<text x="61.91" y="2029.00" font-family='"Liberation Serif", serif' font-size="45.5" font-style="normal" fill="#111" stroke="#111" stroke-width="0.0" textLength="78.17" lengthAdjust="spacingAndGlyphs">0.00</text>
<text x="61.91" y="1900.75" font-family='"Liberation Serif", serif' font-size="45.5" font-style="normal" fill="#111" stroke="#111" stroke-width="0.0" textLength="78.17" lengthAdjust="spacingAndGlyphs">0.05</text>
<text x="61.91" y="1772.50" font-family='"Liberation Serif", serif' font-size="45.5" font-style="normal" fill="#111" stroke="#111" stroke-width="0.0" textLength="78.17" lengthAdjust="spacingAndGlyphs">0.10</text>
<text x="61.91" y="1644.25" font-family='"Liberation Serif", serif' font-size="45.5" font-style="normal" fill="#111" stroke="#111" stroke-width="0.0" textLength="78.17" lengthAdjust="spacingAndGlyphs">0.15</text>
<text x="61.91" y="1516.00" font-family='"Liberation Serif", serif' font-size="45.5" font-style="normal" fill="#111" stroke="#111" stroke-width="0.0" textLength="78.17" lengthAdjust="spacingAndGlyphs">0.20</text>
<text x="61.91" y="1387.75" font-family='"Liberation Serif", serif' font-size="45.5" font-style="normal" fill="#111" stroke="#111" stroke-width="0.0" textLength="78.17" lengthAdjust="spacingAndGlyphs">0.25</text>
<text x="61.91" y="1259.50" font-family='"Liberation Serif", serif' font-size="45.5" font-style="normal" fill="#111" stroke="#111" stroke-width="0.0" textLength="78.17" lengthAdjust="spacingAndGlyphs">0.30</text>
<text x="204.14" y="2136.00" font-family='"Liberation Serif", serif' font-size="45.5" font-style="normal" fill="#111" stroke="#111" stroke-width="0.0">-10</text>
<text x="404.43" y="2136.00" font-family='"Liberation Serif", serif' font-size="45.5" font-style="normal" fill="#111" stroke="#111" stroke-width="0.0">0</text>
<text x="573.31" y="2136.00" font-family='"Liberation Serif", serif' font-size="45.5" font-style="normal" fill="#111" stroke="#111" stroke-width="0.0">10</text>
<text x="755.85" y="2136.00" font-family='"Liberation Serif", serif' font-size="45.5" font-style="normal" fill="#111" stroke="#111" stroke-width="0.0">20</text>
<text x="937.02" y="2136.00" font-family='"Liberation Serif", serif' font-size="45.5" font-style="normal" fill="#111" stroke="#111" stroke-width="0.0">30</text>
<text x="1119.10" y="2136.00" font-family='"Liberation Serif", serif' font-size="45.5" font-style="normal" fill="#111" stroke="#111" stroke-width="0.0">40</text>
<text x="1299.60" y="2136.00" font-family='"Liberation Serif", serif' font-size="45.5" font-style="normal" fill="#111" stroke="#111" stroke-width="0.0">50</text>
<text x="509.08" y="1054.00" font-family='"Liberation Serif", serif' font-size="41.7" font-style="normal" fill="#111" stroke="#111" stroke-width="0.25" textLength="485.58" lengthAdjust="spacingAndGlyphs">Distance to PSR Edge [km]</text>
<text x="509.08" y="2177.20" font-family='"Liberation Serif", serif' font-size="41.7" font-style="normal" fill="#111" stroke="#111" stroke-width="0.25" textLength="484.87" lengthAdjust="spacingAndGlyphs">Distance to PSR Edge [km]</text>
<text transform="translate(32.40 666.24) rotate(-90)" x="0" y="0" font-family='"Liberation Serif", serif' font-size="42.5" font-style="normal" fill="#111" stroke="#111" stroke-width="0.25" textLength="301.44" lengthAdjust="spacingAndGlyphs">Avg WEH [wt%]</text>
<text transform="translate(32.40 1791.04) rotate(-90)" x="0" y="0" font-family='"Liberation Serif", serif' font-size="42.5" font-style="normal" fill="#111" stroke="#111" stroke-width="0.25" textLength="301.55" lengthAdjust="spacingAndGlyphs">Avg WEH [wt%]</text>
<text x="1176.97" y="131.30" font-family='"Liberation Serif", serif' font-size="32.8" font-style="normal" fill="#1a1a1a" stroke="#1a1a1a" stroke-width="0.0" textLength="124.48" lengthAdjust="spacingAndGlyphs">-83°:-86°</text>
<text x="1176.97" y="175.90" font-family='"Liberation Serif", serif' font-size="32.8" font-style="normal" fill="#1a1a1a" stroke="#1a1a1a" stroke-width="0.0" textLength="124.48" lengthAdjust="spacingAndGlyphs">-86°:-88°</text>
<text x="1176.97" y="220.50" font-family='"Liberation Serif", serif' font-size="32.8" font-style="normal" fill="#1a1a1a" stroke="#1a1a1a" stroke-width="0.0" textLength="124.48" lengthAdjust="spacingAndGlyphs">-88°:-90°</text>
<text x="1181.37" y="1255.70" font-family='"Liberation Serif", serif' font-size="32.8" font-style="normal" fill="#1a1a1a" stroke="#1a1a1a" stroke-width="0.0" textLength="124.48" lengthAdjust="spacingAndGlyphs">-73°:-77°</text>
<text x="1181.37" y="1300.10" font-family='"Liberation Serif", serif' font-size="32.8" font-style="normal" fill="#1a1a1a" stroke="#1a1a1a" stroke-width="0.0" textLength="124.48" lengthAdjust="spacingAndGlyphs">-77°:-80°</text>
<text x="1181.37" y="1344.50" font-family='"Liberation Serif", serif' font-size="32.8" font-style="normal" fill="#1a1a1a" stroke="#1a1a1a" stroke-width="0.0" textLength="124.48" lengthAdjust="spacingAndGlyphs">-80°:-83°</text>
<text x="251.30" y="546.40" font-family='"Liberation Serif", serif' font-size="43" font-style="italic" fill="#111" stroke="#111" stroke-width="0.5" textLength="37.86" lengthAdjust="spacingAndGlyphs">In</text>
<text x="232.50" y="596.70" font-family='"Liberation Serif", serif' font-size="44" font-style="italic" fill="#111" stroke="#111" stroke-width="0.5" textLength="76.16" lengthAdjust="spacingAndGlyphs">PSR</text>
<text x="466.98" y="227.50" font-family='"Liberation Serif", serif' font-size="31.5" font-style="italic" fill="#111" stroke="#111" stroke-width="0.25" textLength="135.00" lengthAdjust="spacingAndGlyphs">Smoothing</text>
<text x="438.70" y="263.50" font-family='"Liberation Serif", serif' font-size="31.5" font-style="italic" fill="#111" stroke="#111" stroke-width="0.25" textLength="198.41" lengthAdjust="spacingAndGlyphs">Radius = 13 km</text>
<text x="889.85" y="529.50" font-family='"Liberation Serif", serif' font-size="44" font-style="italic" fill="#111" stroke="#111" stroke-width="0.5" textLength="155.49" lengthAdjust="spacingAndGlyphs">non-PSR</text>
<text x="212.00" y="878.60" font-family='"Liberation Serif", serif' font-size="36.3" font-style="italic" fill="#111" stroke="#111" stroke-width="0.25" textLength="179.18" lengthAdjust="spacingAndGlyphs">Property II)</text>
<text x="439.40" y="878.60" font-family='"Liberation Serif", serif' font-size="36.3" font-style="italic" fill="#111" stroke="#111" stroke-width="0.25" textLength="189.20" lengthAdjust="spacingAndGlyphs">Property III)</text>
<text x="930.30" y="878.60" font-family='"Liberation Serif", serif' font-size="36.3" font-style="italic" fill="#111" stroke="#111" stroke-width="0.25" textLength="166.46" lengthAdjust="spacingAndGlyphs">Property I)</text>
<text x="259.16" y="147.70" font-family='"Liberation Serif", serif' font-size="32" font-style="normal" fill="#e2844a" stroke="#e2844a" stroke-width="0.45" textLength="109.52" lengthAdjust="spacingAndGlyphs">Haworth</text>
<text x="258.49" y="185.80" font-family='"Liberation Serif", serif' font-size="32" font-style="normal" fill="#e2844a" stroke="#e2844a" stroke-width="0.45" textLength="142.29" lengthAdjust="spacingAndGlyphs">Shoemaker</text>
<text x="259.16" y="223.30" font-family='"Liberation Serif", serif' font-size="32" font-style="normal" fill="#e2844a" stroke="#e2844a" stroke-width="0.45" textLength="100.44" lengthAdjust="spacingAndGlyphs">Faustini</text>
<text x="282.67" y="336.30" font-family='"Liberation Serif", serif' font-size="31.3" font-style="normal" fill="#4e8d3c" stroke="#4e8d3c" stroke-width="0.4" textLength="116.59" lengthAdjust="spacingAndGlyphs">Cabeus-1</text>
<text x="249.30" y="1621.50" font-family='"Liberation Serif", serif' font-size="44" font-style="italic" fill="#111" stroke="#111" stroke-width="0.5" textLength="39.02" lengthAdjust="spacingAndGlyphs">In</text>
<text x="231.40" y="1671.90" font-family='"Liberation Serif", serif' font-size="45" font-style="italic" fill="#111" stroke="#111" stroke-width="0.5" textLength="75.86" lengthAdjust="spacingAndGlyphs">PSR</text>
<text x="465.69" y="1393.40" font-family='"Liberation Serif", serif' font-size="31.5" font-style="italic" fill="#111" stroke="#111" stroke-width="0.25" textLength="134.49" lengthAdjust="spacingAndGlyphs">Smoothing</text>
<text x="437.00" y="1430.80" font-family='"Liberation Serif", serif' font-size="31.5" font-style="italic" fill="#111" stroke="#111" stroke-width="0.25" textLength="198.31" lengthAdjust="spacingAndGlyphs">Radius = 13 km</text>
<text x="856.05" y="1660.60" font-family='"Liberation Serif", serif' font-size="44" font-style="italic" fill="#111" stroke="#111" stroke-width="0.5" textLength="155.59" lengthAdjust="spacingAndGlyphs">non-PSR</text>
<text x="210.30" y="1279.30" font-family='"Liberation Serif", serif' font-size="36.5" font-style="italic" fill="#111" stroke="#111" stroke-width="0.25" textLength="179.18" lengthAdjust="spacingAndGlyphs">Property II)</text>
<text x="437.70" y="1279.30" font-family='"Liberation Serif", serif' font-size="36.5" font-style="italic" fill="#111" stroke="#111" stroke-width="0.25" textLength="190.91" lengthAdjust="spacingAndGlyphs">Property III)</text>
<text x="872.90" y="1279.30" font-family='"Liberation Serif", serif' font-size="36.5" font-style="italic" fill="#111" stroke="#111" stroke-width="0.25" textLength="166.46" lengthAdjust="spacingAndGlyphs">Property I)</text>
</svg>
</body></html>
